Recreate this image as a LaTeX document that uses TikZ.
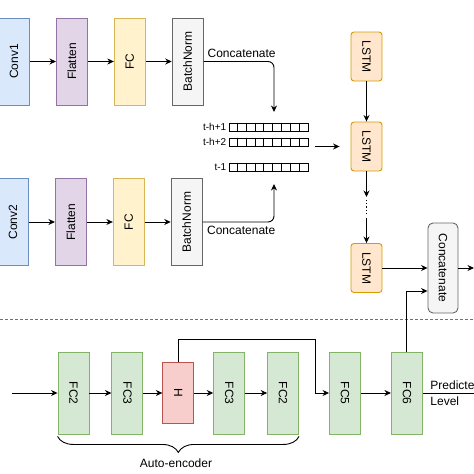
\documentclass[tikz,border=0pt]{standalone}
\usepackage{fontspec}
\setmainfont{Liberation Sans}
\usepackage{tikz}
\usetikzlibrary{positioning, arrows.meta, decorations.pathreplacing}

\definecolor{convfill}{HTML}{DAE8FC}
\definecolor{convline}{HTML}{6C8EBF}
\definecolor{flatfill}{HTML}{E1D5E7}
\definecolor{flatline}{HTML}{9673A6}
\definecolor{fcfill}{HTML}{FFF2CC}
\definecolor{fcline}{HTML}{D6B656}
\definecolor{grayfill}{HTML}{F5F5F5}
\definecolor{grayline}{HTML}{666666}
\definecolor{lstmfill}{HTML}{FFE6CC}
\definecolor{lstmline}{HTML}{D79B00}
\definecolor{aefill}{HTML}{D5E8D4}
\definecolor{aeline}{HTML}{82B366}
\definecolor{hfill}{HTML}{F8CECC}
\definecolor{hline}{HTML}{B85450}

\newcommand{\rotup}[1]{\rotatebox{90}{#1}}
\newcommand{\rotdn}[1]{\rotatebox{-90}{#1}}

\begin{document}
\begin{tikzpicture}[x=1pt, y=-1pt, >={Stealth[length=6.5pt,width=6pt]}, line width=0.9pt,
  box/.style={draw, line width=0.9pt, minimum width=31pt, inner sep=0pt, font=\fontsize{12}{14}\selectfont},
  convbox/.style={box, fill=convfill, draw=convline, minimum height=87pt},
  flatbox/.style={box, fill=flatfill, draw=flatline, minimum height=87pt},
  fcbox/.style={box, fill=fcfill, draw=fcline, minimum height=87pt},
  bnbox/.style={box, fill=grayfill, draw=grayline, minimum height=87pt},
  lstmbox/.style={box, rounded corners=3pt, fill=lstmfill, draw=lstmline, minimum height=49pt},
  aebox/.style={box, fill=aefill, draw=aeline, minimum height=82pt},
  gridrow/.style={draw, line width=0.7pt, minimum width=79pt, minimum height=8pt, inner sep=0pt},
  small/.style={font=\fontsize{10}{12}\selectfont, inner sep=0pt}]
\useasboundingbox (0,0) rectangle (474,474);

% first input branch
\node[convbox] (conv1) at (14,61.5) {\rotup{Conv1}};
\node[flatbox, right=26pt of conv1] (flat1) {\rotup{Flatten}};
\node[fcbox, right=26pt of flat1] (fc1) {\rotup{FC}};
\node[bnbox, right=26pt of fc1] (bn1) {\rotup{BatchNorm}};
\draw[->] (conv1) -- (flat1);
\draw[->] (flat1) -- (fc1);
\draw[->] (fc1) -- (bn1);

% second input branch
\node[convbox] (conv2) at (13,222) {\rotup{Conv2}};
\node[flatbox, right=26pt of conv2] (flat2) {\rotup{Flatten}};
\node[fcbox, right=26pt of flat2] (fc2) {\rotup{FC}};
\node[bnbox, right=26pt of fc2] (bn2) {\rotup{BatchNorm}};
\draw[->] (conv2) -- (flat2);
\draw[->] (flat2) -- (fc2);
\draw[->] (fc2) -- (bn2);

% time window
\node[gridrow] (r1) at (268.5,127) {};
\node[gridrow] (r2) at (268.5,142) {};
\node[gridrow] (r3) at (268.5,167) {};
\foreach \r in {r1,r2,r3}
  \foreach \i in {1,...,8}
    \draw[line width=0.7pt] ([xshift=\i*8.78pt]\r.north west) -- ([xshift=\i*8.78pt]\r.south west);
\node[small, left=2pt of r1] {t-h+1};
\node[small, left=2pt of r2] {t-h+2};
\node[small, left=2pt of r3] {t-1};

\coordinate (gtop) at (274,112);
\coordinate (gbot) at (274,184);
\draw[->, rounded corners=6pt] (bn1.east) -| (gtop) node[pos=0.27, above, font=\fontsize{12}{14}\selectfont]{Concatenate};
\draw[->, rounded corners=6pt] (bn2.east) -| (gbot) node[pos=0.27, below, font=\fontsize{12}{14}\selectfont]{Concatenate};

% LSTM chain
\node[lstmbox] (l1) at (366.5,56.5) {\rotdn{LSTM}};
\node[lstmbox] (l2) at (366.5,146.5) {\rotdn{LSTM}};
\node[lstmbox] (l3) at (366.5,268) {\rotdn{LSTM}};
\coordinate (gout) at (315,146.5);
\coordinate (d1) at (366.5,197);
\coordinate (d2) at (366.5,218);
\draw[->, shorten >=11pt] (gout) -- (l2.west);
\draw[->] (l1) -- (l2);
\draw[->] (l2) -- (d1);
\draw[dotted, line width=1.2pt, shorten <=3pt, shorten >=4pt] (d1) -- (d2);
\draw[->] (d2) -- (l3);

\node[box, rounded corners=5pt, fill=grayfill, draw=grayline, minimum width=30pt, minimum height=90pt] (cat) at (443,268) {\rotdn{Concatenate}};
\coordinate (out) at (474,268);
\draw[->] (l3) -- (cat);
\draw[->] (cat) -- (out);

% separator
\draw[hline, line width=0.8pt, dash pattern=on 3pt off 2pt] (0,319) -- (474,319);

% auto-encoder branch
\node[aebox] (ae1) at (73.5,393) {\rotdn{FC2}};
\node[aebox, right=22pt of ae1] (ae2) {\rotdn{FC3}};
\node[box, fill=hfill, draw=hline, minimum height=61pt, right=19pt of ae2] (h) {\rotdn{H}};
\node[aebox, right=19pt of h] (ae3) {\rotdn{FC3}};
\node[aebox, right=22pt of ae3] (ae4) {\rotdn{FC2}};
\node[aebox, right=30pt of ae4] (fc5) {\rotdn{FC5}};
\node[aebox, right=30pt of fc5] (fc6) {\rotdn{FC6}};
\coordinate (in) at (12,393);
\coordinate (hk) at (315,339);
\coordinate (pred) at (476,393);
\draw[->] (in) -- (ae1);
\draw[->] (ae1) -- (ae2);
\draw[->] (ae2) -- (h);
\draw[->] (h) -- (ae3);
\draw[->] (ae3) -- (ae4);
\draw[->] (h.north) |- (hk) |- (fc5.west);
\draw[->] (fc5) -- (fc6);
\draw[->] (fc6.north) |- ([yshift=-23pt]cat.west);
\draw (fc6.east) -- (pred);
\node[anchor=west, align=left, inner sep=0pt, font=\fontsize{12}{16}\selectfont] (predlbl) at (430,393) {Predicted\\Level};

\draw[decorate, decoration={brace, mirror, amplitude=16pt}] ([yshift=-2pt]ae1.south west) -- ([yshift=-2pt]ae4.south east);
\node[font=\fontsize{12}{14}\selectfont] (aelbl) at (176,463) {Auto-encoder};
\end{tikzpicture}
\end{document}
